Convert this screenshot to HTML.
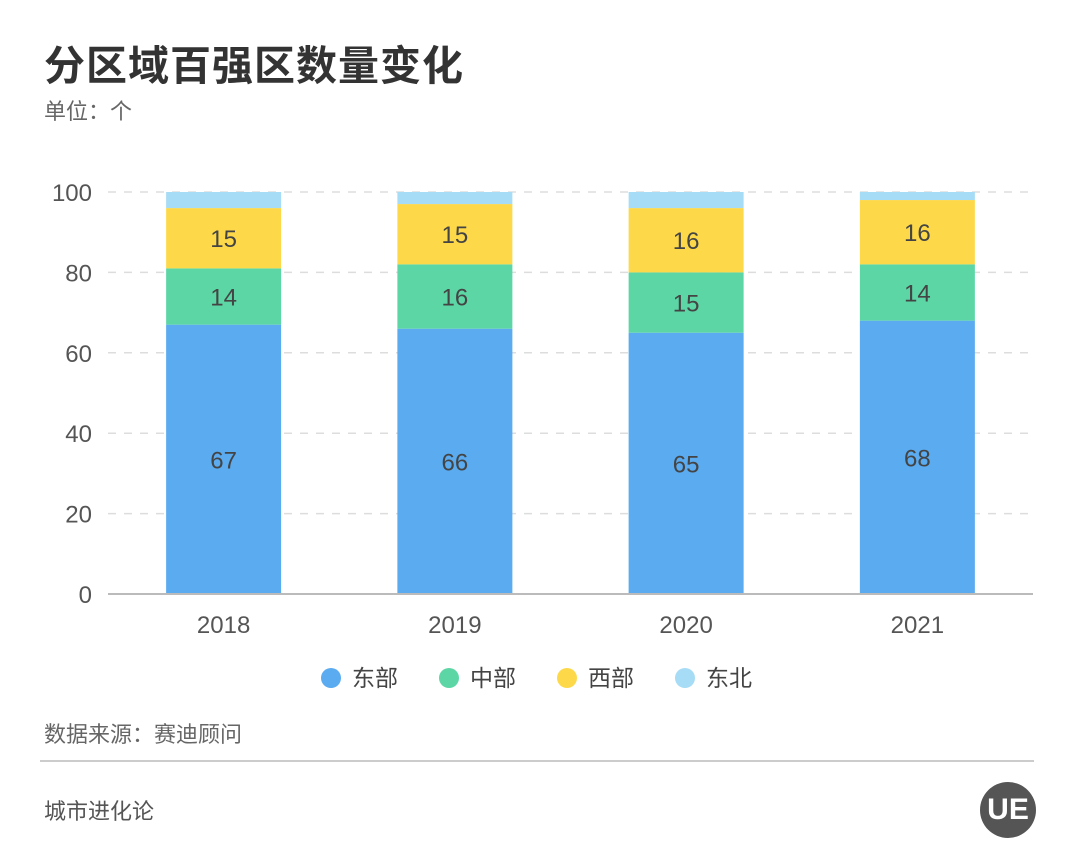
<!DOCTYPE html>
<html><head><meta charset="utf-8"><style>
body{margin:0;background:#fff;}
#wrap{position:relative;width:1080px;height:864px;overflow:hidden;font-family:"Liberation Sans","Noto Sans CJK SC",sans-serif;}
.t{position:absolute;white-space:nowrap;}
</style></head><body>
<div id="wrap">
<div class="t" style="left:44px;top:32px;font-size:41px;font-weight:bold;color:#333;letter-spacing:1px">分区域百强区数量变化</div>
<div class="t" style="left:44px;top:94px;font-size:22px;color:#666">单位：个</div>
<svg id="chart" width="1080" height="720" style="position:absolute;left:0;top:0"></svg>
<div class="t" style="left:44px;top:717px;font-size:22px;color:#666">数据来源：赛迪顾问</div>
<div style="position:absolute;left:40px;top:760px;width:994px;height:2px;background:#ccc"></div>
<div class="t" style="left:44px;top:794px;font-size:22px;color:#555">城市进化论</div>
<div style="position:absolute;left:980px;top:782px;width:56px;height:56px;border-radius:50%;background:#555;color:#fff;font-size:30px;font-weight:bold;text-align:center;line-height:56px">UE</div>
</div>
<script>
const categories=["2018","2019","2020","2021"];
const seriesNames=["东部","中部","西部","东北"];
const east=[67,66,65,68];
const central=[14,16,15,14];
const west=[15,15,16,16];
const northeast=[4,3,4,2];
const yTicks=[0,20,40,60,80,100];
const colors=["#5aabf0","#5dd6a6","#fdd94a","#a6dcf5"];
const NS="http://www.w3.org/2000/svg";
const svg=document.getElementById('chart');
const L=108,R=1033,Y0=594,Y100=192;
const y=v=>Y0-(v/100)*(Y0-Y100);
const band=(R-L)/categories.length;
const x=i=>L+band*(i+0.5);
const bw=115;
function mk(t,a){const e=document.createElementNS(NS,t);for(const k in a)e.setAttribute(k,a[k]);svg.appendChild(e);return e;}
yTicks.forEach(v=>{
  if(v>0){const g=mk('line',{x1:L,x2:R,y1:y(v),y2:y(v),stroke:'#ddd','stroke-dasharray':'8,8','stroke-width':1.5});
  
  }
  const t=mk('text',{x:92,y:y(v)+9,'text-anchor':'end','font-size':24,fill:'#555','font-family':'Liberation Sans, sans-serif'});
  t.textContent=v;
  
  
});
const series=[east,central,west,northeast];
categories.forEach((c,i)=>{
  let base=0;
  series.forEach((s,k)=>{
    const v=s[i];
    const r=mk('rect',{x:x(i)-bw/2,y:y(base+v),width:bw,height:y(base)-y(base+v),fill:colors[k]});
    
    
    if(k<3){
      const t=mk('text',{x:x(i),y:(y(base)+y(base+v))/2+9,'text-anchor':'middle','font-size':24,fill:'#444','font-family':'Liberation Sans, sans-serif'});
      t.textContent=v;
      
      
    }
    base+=v;
  });
  const t=mk('text',{x:x(i),y:633,'text-anchor':'middle','font-size':24,fill:'#555','font-family':'Liberation Sans, sans-serif'});
  t.textContent=c;
  
  
});
const ax=mk('line',{x1:L,x2:R,y1:Y0,y2:Y0,stroke:'#bbb','stroke-width':2});


const lx=[331,449,567,685];
seriesNames.forEach((n,k)=>{
  const c=mk('circle',{cx:lx[k],cy:678,r:10,fill:colors[k]});
  
  
  const t=mk('text',{x:lx[k]+21,y:686,'font-size':23,fill:'#444','font-family':'Liberation Sans, Noto Sans CJK SC, sans-serif'});
  t.textContent=n;
  
  
});
</script>
</body></html>
